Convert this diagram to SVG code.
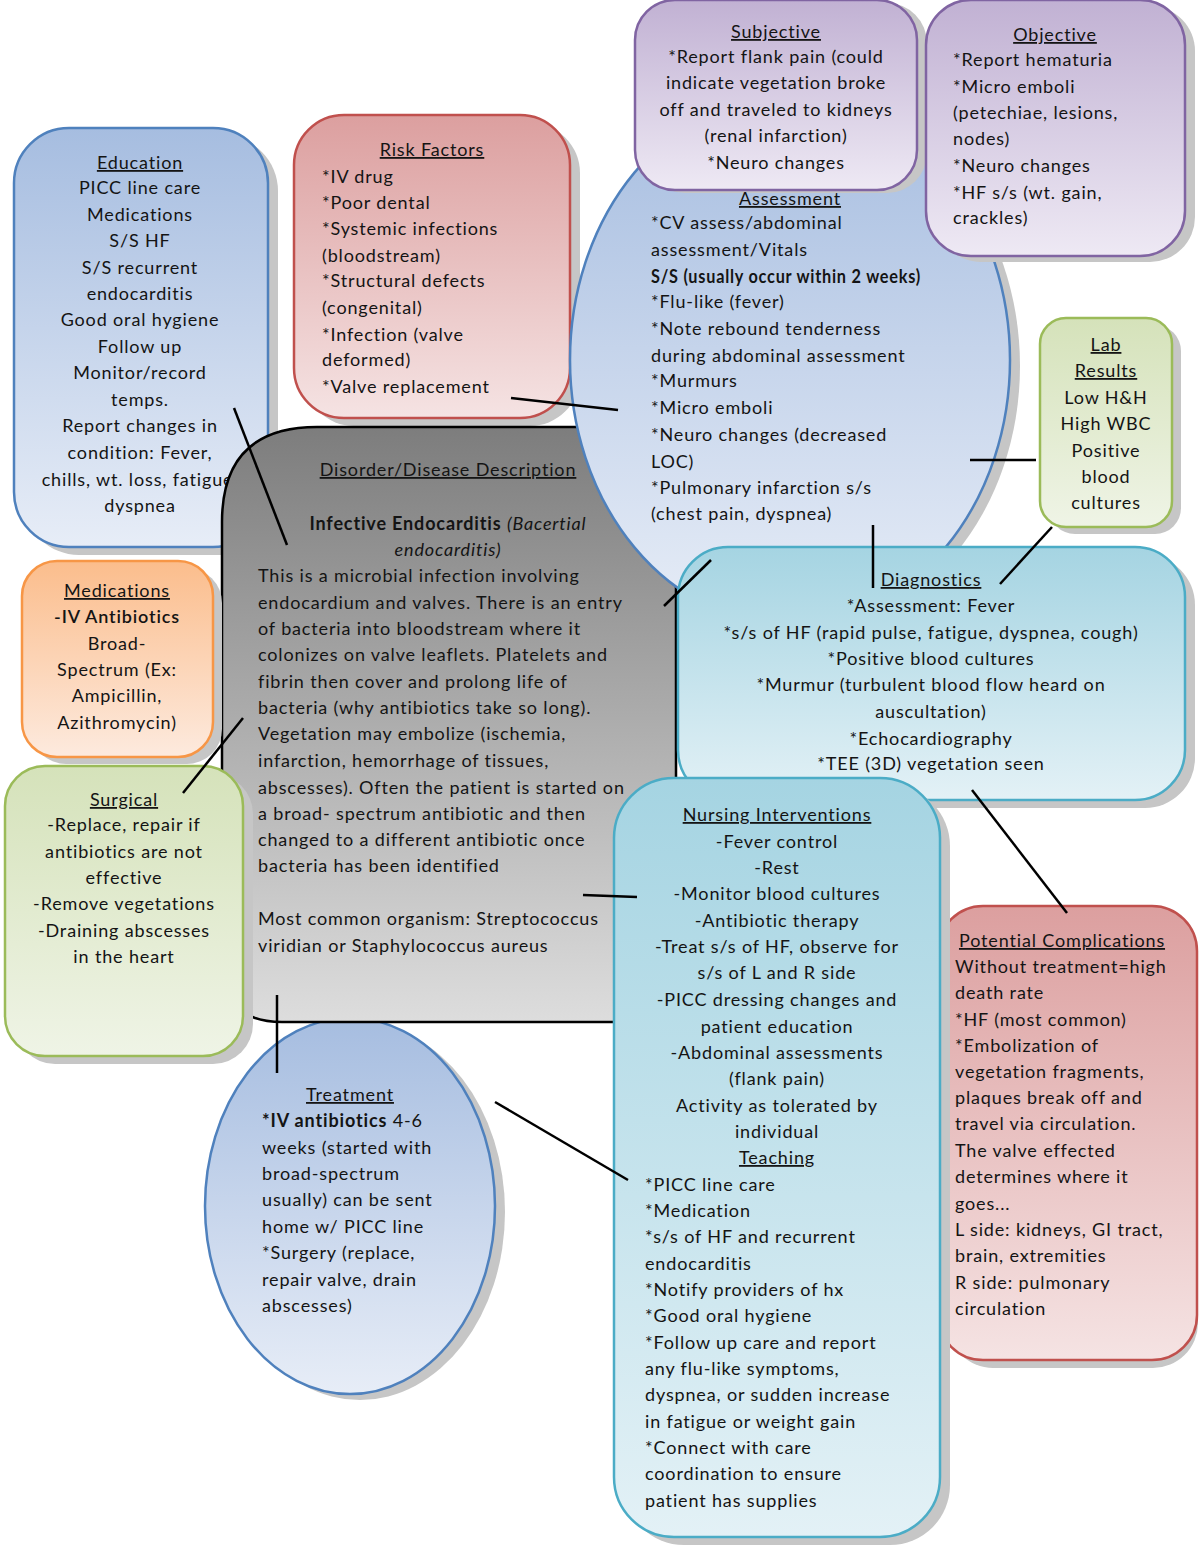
<svg xmlns="http://www.w3.org/2000/svg" width="1200" height="1553" viewBox="0 0 1200 1553">
<defs>
<style>
text{font-family:Lato,"Liberation Sans",sans-serif;font-size:18px;fill:#141414;letter-spacing:0.85px}
.c{text-anchor:middle}
.u{text-decoration:underline}
.b{font-weight:bold}
.i{font-style:italic}
.sh{fill:#c6c6c6}
.con line{stroke:#000;stroke-width:2.5}
</style>
<linearGradient id="gBlue" x1="0" y1="0" x2="0" y2="1"><stop offset="0" stop-color="#a6bde0"/><stop offset="1" stop-color="#e7edf7"/></linearGradient>
<linearGradient id="gRed" x1="0" y1="0" x2="0" y2="1"><stop offset="0" stop-color="#dc9f9f"/><stop offset="1" stop-color="#f5e3e3"/></linearGradient>
<linearGradient id="gPur" x1="0" y1="0" x2="0" y2="1"><stop offset="0" stop-color="#c1b1d3"/><stop offset="1" stop-color="#eee9f4"/></linearGradient>
<linearGradient id="gGrn" x1="0" y1="0" x2="0" y2="1"><stop offset="0" stop-color="#d5e2ba"/><stop offset="1" stop-color="#eff4e6"/></linearGradient>
<linearGradient id="gOrg" x1="0" y1="0" x2="0" y2="1"><stop offset="0" stop-color="#fbbd8c"/><stop offset="1" stop-color="#fdeade"/></linearGradient>
<linearGradient id="gCyn" x1="0" y1="0" x2="0" y2="1"><stop offset="0" stop-color="#a5d4e2"/><stop offset="1" stop-color="#e3f1f6"/></linearGradient>
<linearGradient id="gGry" x1="0" y1="0" x2="0" y2="1"><stop offset="0" stop-color="#7d7d7d"/><stop offset="1" stop-color="#dddddd"/></linearGradient>
</defs>
<rect width="1200" height="1553" fill="#ffffff"/>

<g id="education">
<rect class="sh" x="24" y="136" width="254" height="419" rx="55"/>
<rect x="14" y="128" width="254" height="419" rx="55" fill="url(#gBlue)" stroke="#4f81bd" stroke-width="2.5"/>
<text x="140" y="169" class="c u">Education</text>
<text x="140" y="194" class="c">PICC line care</text>
<text x="140" y="221" class="c">Medications</text>
<text x="140" y="247" class="c">S/S HF</text>
<text x="140" y="274" class="c">S/S recurrent</text>
<text x="140" y="300" class="c">endocarditis</text>
<text x="140" y="326" class="c">Good oral hygiene</text>
<text x="140" y="353" class="c">Follow up</text>
<text x="140" y="379" class="c">Monitor/record</text>
<text x="140" y="406" class="c">temps.</text>
<text x="140" y="432" class="c">Report changes in</text>
<text x="140" y="459" class="c">condition: Fever,</text>
<text x="140" y="486" class="c">chills, wt. loss, fatigue,</text>
<text x="140" y="512" class="c">dyspnea</text>
</g>

<g id="risk-factors">
<rect class="sh" x="304" y="123" width="276" height="303" rx="50"/>
<rect x="294" y="115" width="276" height="303" rx="50" fill="url(#gRed)" stroke="#c0504d" stroke-width="2.5"/>
<text x="432" y="156" class="c u">Risk Factors</text>
<text x="322" y="183">*IV drug</text>
<text x="322" y="209">*Poor dental</text>
<text x="322" y="235">*Systemic infections</text>
<text x="322" y="262">(bloodstream)</text>
<text x="322" y="287">*Structural defects</text>
<text x="322" y="314">(congenital)</text>
<text x="322" y="341">*Infection (valve</text>
<text x="322" y="366">deformed)</text>
<text x="322" y="393">*Valve replacement</text>
</g>

<g id="treatment">
<ellipse class="sh" cx="360" cy="1212" rx="145" ry="188"/>
<ellipse cx="350" cy="1206" rx="145" ry="188" fill="url(#gBlue)" stroke="#4f81bd" stroke-width="2.5"/>
<text x="350" y="1101" class="c u">Treatment</text>
<text x="262" y="1127"><tspan class="b">*IV antibiotics</tspan> 4-6</text>
<text x="262" y="1154">weeks (started with</text>
<text x="262" y="1180">broad-spectrum</text>
<text x="262" y="1206">usually) can be sent</text>
<text x="262" y="1233">home w/ PICC line</text>
<text x="262" y="1259">*Surgery (replace,</text>
<text x="262" y="1286">repair valve, drain</text>
<text x="262" y="1312">abscesses)</text>
</g>

<g id="disorder-description">
<path d="M317,427 H656 Q676,427 676,447 V1002 Q676,1022 656,1022 H282 Q222,1022 222,962 V522 Q222,427 317,427 Z" fill="url(#gGry)" stroke="#000" stroke-width="2.5"/>
<text x="448" y="476" class="c u">Disorder/Disease Description</text>
<text x="448" y="530" class="c"><tspan class="b">Infective Endocarditis</tspan> <tspan class="i">(Bacertial</tspan></text>
<text x="448" y="556" class="c i">endocarditis)</text>
<text x="258" y="582">This is a microbial infection involving</text>
<text x="258" y="609">endocardium and valves. There is an entry</text>
<text x="258" y="635">of bacteria into bloodstream where it</text>
<text x="258" y="661">colonizes on valve leaflets. Platelets and</text>
<text x="258" y="688">fibrin then cover and prolong life of</text>
<text x="258" y="714">bacteria (why antibiotics take so long).</text>
<text x="258" y="740">Vegetation may embolize (ischemia,</text>
<text x="258" y="767">infarction, hemorrhage of tissues,</text>
<text x="258" y="794">abscesses). Often the patient is started on</text>
<text x="258" y="820">a broad- spectrum antibiotic and then</text>
<text x="258" y="846">changed to a different antibiotic once</text>
<text x="258" y="872">bacteria has been identified</text>
<text x="258" y="925">Most common organism: Streptococcus</text>
<text x="258" y="952">viridian or Staphylococcus aureus</text>
</g>

<g id="assessment">
<ellipse class="sh" cx="800" cy="366" rx="220" ry="265"/>
<ellipse cx="790" cy="360" rx="220" ry="265" fill="url(#gBlue)" stroke="#4f81bd" stroke-width="2.5"/>
<text x="651" y="229">*CV assess/abdominal</text>
<text x="651" y="256">assessment/Vitals</text>
<text x="651" y="283" class="b" textLength="270" lengthAdjust="spacingAndGlyphs">S/S (usually occur within 2 weeks)</text>
<text x="651" y="308">*Flu-like (fever)</text>
<text x="651" y="335">*Note rebound tenderness</text>
<text x="651" y="362">during abdominal assessment</text>
<text x="651" y="387">*Murmurs</text>
<text x="651" y="414">*Micro emboli</text>
<text x="651" y="441">*Neuro changes (decreased</text>
<text x="651" y="468">LOC)</text>
<text x="651" y="494">*Pulmonary infarction s/s</text>
<text x="651" y="520">(chest pain, dyspnea)</text>
</g>

<g id="subjective">
<rect class="sh" x="645" y="3" width="282" height="190" rx="40"/>
<rect x="635" y="0" width="282" height="190" rx="40" fill="url(#gPur)" stroke="#8064a2" stroke-width="2.5"/>
<text x="776" y="38" class="c u">Subjective</text>
<text x="776" y="63" class="c">*Report flank pain (could</text>
<text x="776" y="89" class="c">indicate vegetation broke</text>
<text x="776" y="116" class="c">off and traveled to kidneys</text>
<text x="776" y="142" class="c">(renal infarction)</text>
<text x="776" y="169" class="c">*Neuro changes</text>
</g>

<g id="assessment-title">
<text x="790" y="205" class="c u">Assessment</text>
</g>

<g id="objective">
<rect class="sh" x="936" y="6" width="259" height="256" rx="45"/>
<rect x="926" y="0" width="259" height="256" rx="45" fill="url(#gPur)" stroke="#8064a2" stroke-width="2.5"/>
<text x="1055" y="41" class="c u">Objective</text>
<text x="953" y="66">*Report hematuria</text>
<text x="953" y="93">*Micro emboli</text>
<text x="953" y="119">(petechiae, lesions,</text>
<text x="953" y="145">nodes)</text>
<text x="953" y="172">*Neuro changes</text>
<text x="953" y="199">*HF s/s (wt. gain,</text>
<text x="953" y="224">crackles)</text>
</g>

<g id="lab-results">
<rect class="sh" x="1049" y="325" width="132" height="209" rx="26"/>
<rect x="1040" y="318" width="132" height="209" rx="26" fill="url(#gGrn)" stroke="#9bbb59" stroke-width="2.5"/>
<text x="1106" y="351" class="c u">Lab</text>
<text x="1106" y="377" class="c u">Results</text>
<text x="1106" y="404" class="c">Low H&amp;H</text>
<text x="1106" y="430" class="c">High WBC</text>
<text x="1106" y="457" class="c">Positive</text>
<text x="1106" y="483" class="c">blood</text>
<text x="1106" y="509" class="c">cultures</text>
</g>

<g id="diagnostics">
<rect class="sh" x="688" y="555" width="507" height="253" rx="50"/>
<rect x="678" y="547" width="507" height="253" rx="50" fill="url(#gCyn)" stroke="#4bacc6" stroke-width="2.5"/>
<text x="931" y="586" class="c u">Diagnostics</text>
<text x="931" y="612" class="c">*Assessment: Fever</text>
<text x="931" y="639" class="c">*s/s of HF (rapid pulse, fatigue, dyspnea, cough)</text>
<text x="931" y="665" class="c">*Positive blood cultures</text>
<text x="931" y="691" class="c">*Murmur (turbulent blood flow heard on</text>
<text x="931" y="718" class="c">auscultation)</text>
<text x="931" y="745" class="c">*Echocardiography</text>
<text x="931" y="770" class="c">*TEE (3D) vegetation seen</text>
</g>

<g id="medications">
<rect class="sh" x="31" y="568" width="191" height="196" rx="35"/>
<rect x="22" y="561" width="191" height="196" rx="35" fill="url(#gOrg)" stroke="#f79646" stroke-width="2.5"/>
<text x="117" y="597" class="c u">Medications</text>
<text x="117" y="623" class="c" font-weight="600">-IV Antibiotics</text>
<text x="117" y="650" class="c">Broad-</text>
<text x="117" y="676" class="c">Spectrum (Ex:</text>
<text x="117" y="702" class="c">Ampicillin,</text>
<text x="117" y="729" class="c">Azithromycin)</text>
</g>

<g id="surgical">
<rect class="sh" x="15" y="774" width="238" height="290" rx="40"/>
<rect x="5" y="766" width="238" height="290" rx="40" fill="url(#gGrn)" stroke="#9bbb59" stroke-width="2.5"/>
<text x="124" y="806" class="c u">Surgical</text>
<text x="124" y="831" class="c">-Replace, repair if</text>
<text x="124" y="858" class="c">antibiotics are not</text>
<text x="124" y="884" class="c">effective</text>
<text x="124" y="910" class="c">-Remove vegetations</text>
<text x="124" y="937" class="c">-Draining abscesses</text>
<text x="124" y="963" class="c">in the heart</text>
</g>

<g id="potential-complications">
<rect class="sh" x="948" y="914" width="250" height="454" rx="45"/>
<rect x="938" y="906" width="259" height="454" rx="45" fill="url(#gRed)" stroke="#c0504d" stroke-width="2.5"/>
<text x="1062" y="947" class="c u">Potential Complications</text>
<text x="955" y="973">Without treatment=high</text>
<text x="955" y="999">death rate</text>
<text x="955" y="1026">*HF (most common)</text>
<text x="955" y="1052">*Embolization of</text>
<text x="955" y="1078">vegetation fragments,</text>
<text x="955" y="1104">plaques break off and</text>
<text x="955" y="1130">travel via circulation.</text>
<text x="955" y="1157">The valve effected</text>
<text x="955" y="1183">determines where it</text>
<text x="955" y="1210">goes...</text>
<text x="955" y="1236">L side: kidneys, GI tract,</text>
<text x="955" y="1262">brain, extremities</text>
<text x="955" y="1289">R side: pulmonary</text>
<text x="955" y="1315">circulation</text>
</g>

<g id="nursing-interventions">
<rect class="sh" x="624" y="786" width="326" height="759" rx="60"/>
<rect x="614" y="778" width="326" height="759" rx="60" fill="url(#gCyn)" stroke="#4bacc6" stroke-width="2.5"/>
<text x="777" y="821" class="c u">Nursing Interventions</text>
<text x="777" y="848" class="c">-Fever control</text>
<text x="777" y="874" class="c">-Rest</text>
<text x="777" y="900" class="c">-Monitor blood cultures</text>
<text x="777" y="927" class="c">-Antibiotic therapy</text>
<text x="777" y="953" class="c">-Treat s/s of HF, observe for</text>
<text x="777" y="979" class="c">s/s of L and R side</text>
<text x="777" y="1006" class="c">-PICC dressing changes and</text>
<text x="777" y="1033" class="c">patient education</text>
<text x="777" y="1059" class="c">-Abdominal assessments</text>
<text x="777" y="1085" class="c">(flank pain)</text>
<text x="777" y="1112" class="c">Activity as tolerated by</text>
<text x="777" y="1138" class="c">individual</text>
<text x="777" y="1164" class="c u">Teaching</text>
<text x="645" y="1191">*PICC line care</text>
<text x="645" y="1217">*Medication</text>
<text x="645" y="1243">*s/s of HF and recurrent</text>
<text x="645" y="1270">endocarditis</text>
<text x="645" y="1296">*Notify providers of hx</text>
<text x="645" y="1322">*Good oral hygiene</text>
<text x="645" y="1349">*Follow up care and report</text>
<text x="645" y="1375">any flu-like symptoms,</text>
<text x="645" y="1401">dyspnea, or sudden increase</text>
<text x="645" y="1428">in fatigue or weight gain</text>
<text x="645" y="1454">*Connect with care</text>
<text x="645" y="1480">coordination to ensure</text>
<text x="645" y="1507">patient has supplies</text>
</g>

<g id="connectors" class="con">
<line x1="234" y1="408" x2="287" y2="545"/>
<line x1="511" y1="398" x2="618" y2="410"/>
<line x1="970" y1="460" x2="1036" y2="460"/>
<line x1="873" y1="525" x2="873" y2="588"/>
<line x1="1052" y1="527" x2="1000" y2="584"/>
<line x1="711" y1="560" x2="664" y2="606"/>
<line x1="243" y1="718" x2="183" y2="793"/>
<line x1="583" y1="895" x2="637" y2="897"/>
<line x1="277" y1="995" x2="277" y2="1073"/>
<line x1="495" y1="1102" x2="628" y2="1180"/>
<line x1="972" y1="790" x2="1067" y2="913"/>
</g>
</svg>
